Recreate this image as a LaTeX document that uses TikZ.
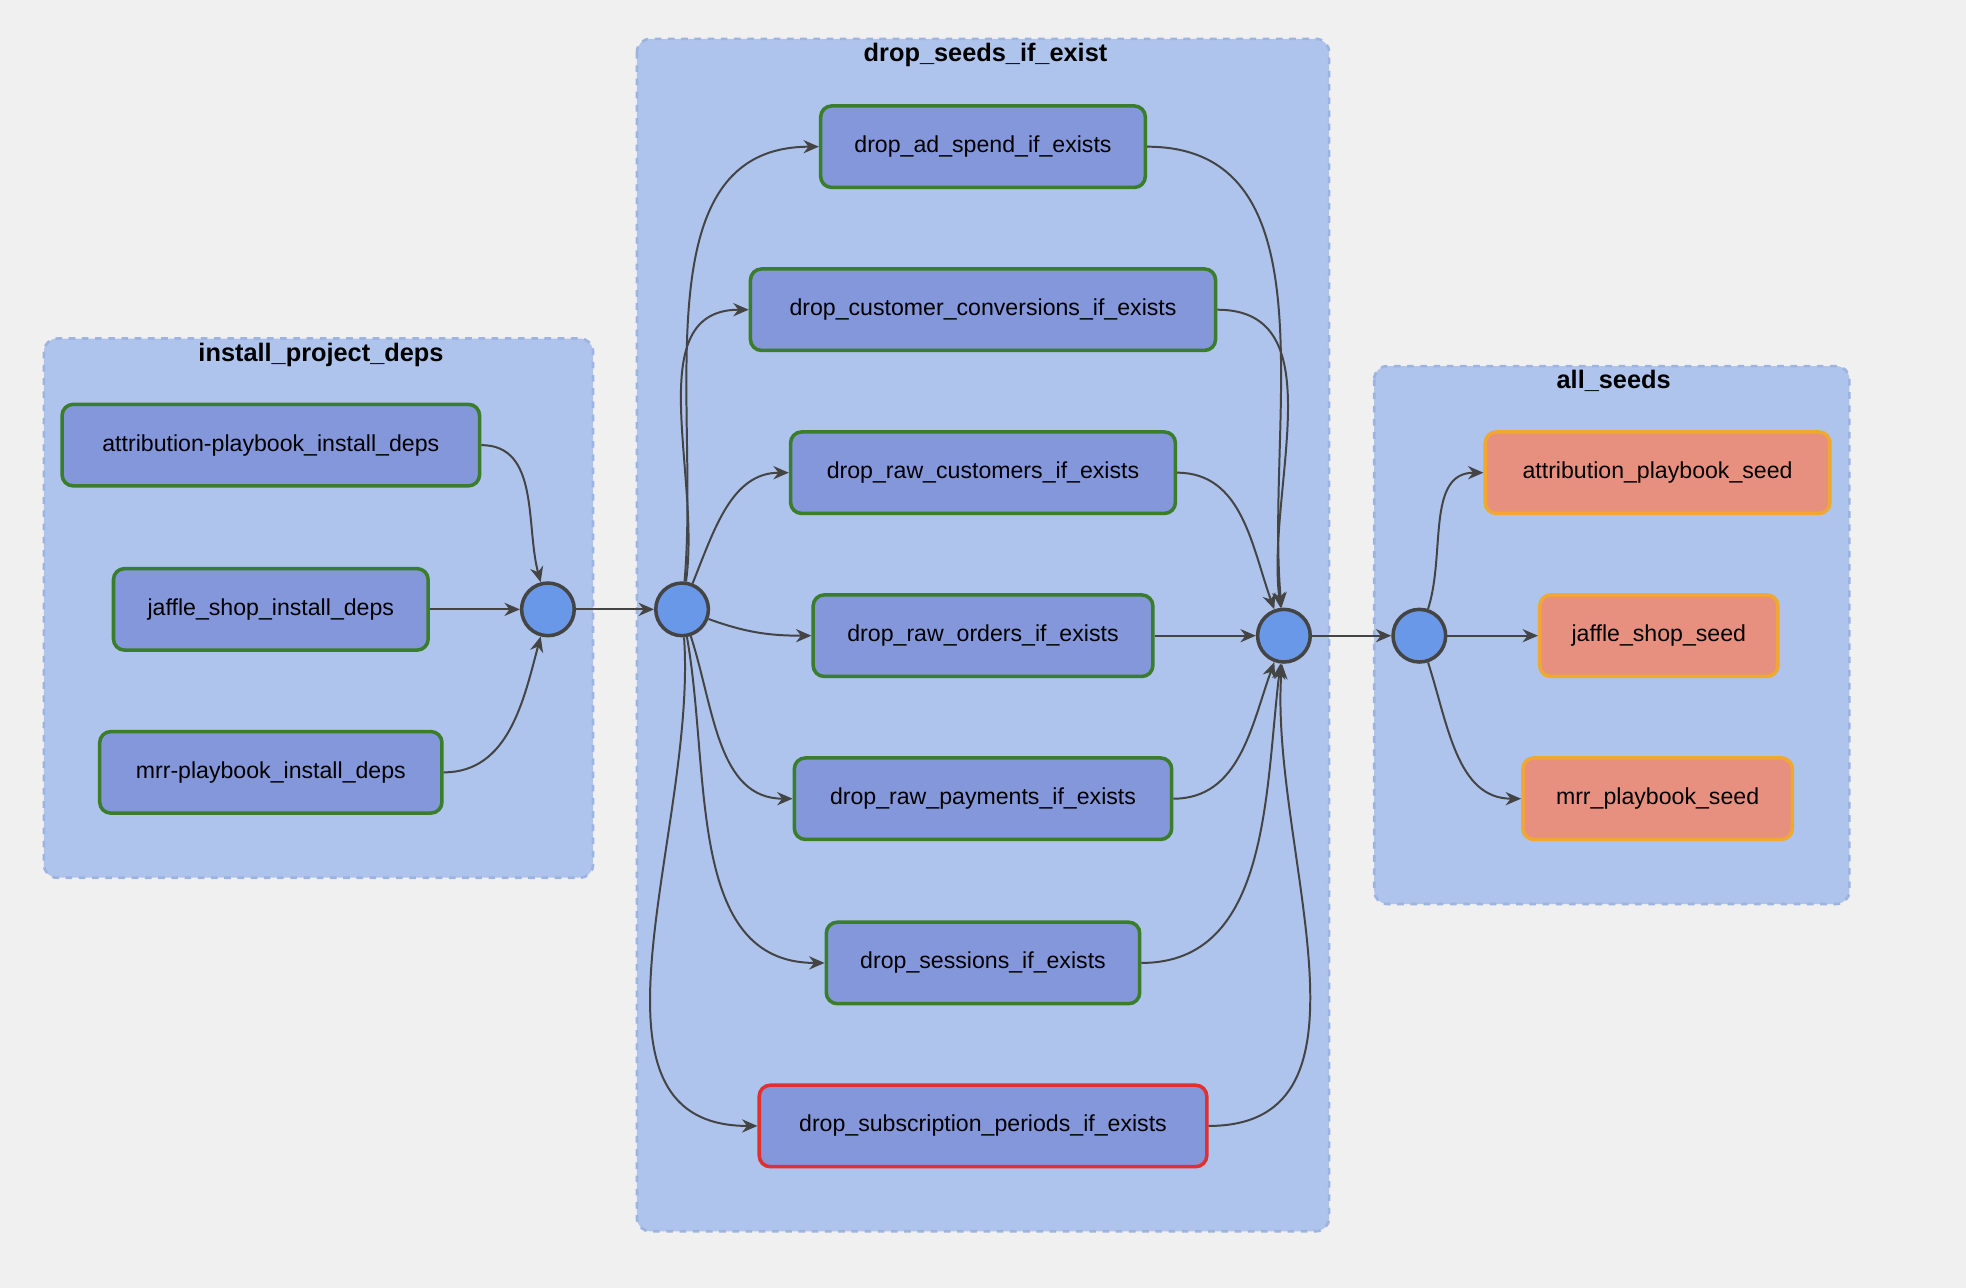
\documentclass[tikz,border=0pt]{standalone}
\usepackage{fontspec}
\setmainfont{Liberation Sans}
\usetikzlibrary{arrows.meta,calc}
\definecolor{bg}{HTML}{F0F0F0}
\definecolor{grp}{HTML}{AEC4EC}
\definecolor{grpb}{HTML}{9DB3E0}
\definecolor{task}{HTML}{8497DB}
\definecolor{tgreen}{HTML}{3A7D2A}
\definecolor{tred}{HTML}{E03030}
\definecolor{seed}{HTML}{E8907F}
\definecolor{seedb}{HTML}{F0A830}
\definecolor{dot}{HTML}{6A98E8}
\definecolor{edge}{HTML}{444444}
\tikzset{
 grpbox/.style={fill=grp,draw=grpb,dashed,line width=1.2pt,rounded corners=6pt},
 grptitle/.style={font=\bfseries\fontsize{11.5}{13}\selectfont},
 taskbox/.style={fill=task,draw=tgreen,line width=1.6pt,rounded corners=5pt,minimum height=1.3cm,font=\fontsize{10.5}{12}\selectfont,inner sep=0pt},
 failbox/.style={taskbox,draw=tred},
 seedbox/.style={taskbox,fill=seed,draw=seedb},
 junc/.style={circle,fill=dot,draw=edge,line width=1.6pt,minimum size=0.84cm,inner sep=0pt},
 e/.style={draw=edge,line width=0.9pt,-{Stealth[length=7pt,width=6pt]}}
}
\begin{document}
\begin{tikzpicture}[x=0.02cm,y=-0.02cm]
\fill[bg] (0,0) rectangle (1568,1027);
\useasboundingbox (0,0) rectangle (1568,1027);
\draw[grpbox] (35,270) rectangle (473,700);
\node[grptitle] at (256,283) {install\_project\_deps};
\draw[grpbox] (508,31) rectangle (1060,982);
\node[grptitle] at (786,44) {drop\_seeds\_if\_exist};
\draw[grpbox] (1096,292) rectangle (1475,721);
\node[grptitle] at (1287,304) {all\_seeds};

\node[taskbox,minimum width=6.66cm] (a1) at (216,355) {attribution-playbook\_install\_deps};
\node[taskbox,minimum width=5.02cm] (a2) at (216,486) {jaffle\_shop\_install\_deps};
\node[taskbox,minimum width=5.46cm] (a3) at (216,616) {mrr-playbook\_install\_deps};
\node[junc] (c1) at (437,486) {};
\node[junc] (c2) at (544,486) {};

\node[taskbox,minimum width=5.18cm] (d1) at (784,117) {drop\_ad\_spend\_if\_exists};
\node[taskbox,minimum width=7.42cm] (d2) at (784,247) {drop\_customer\_conversions\_if\_exists};
\node[taskbox,minimum width=6.14cm] (d3) at (784,377) {drop\_raw\_customers\_if\_exists};
\node[taskbox,minimum width=5.42cm] (d4) at (784,507) {drop\_raw\_orders\_if\_exists};
\node[taskbox,minimum width=6.02cm] (d5) at (784,637) {drop\_raw\_payments\_if\_exists};
\node[taskbox,minimum width=5.0cm] (d6) at (784,768) {drop\_sessions\_if\_exists};
\node[failbox,minimum width=7.14cm] (d7) at (784,898) {drop\_subscription\_periods\_if\_exists};
\node[junc] (c3) at (1024,507) {};
\node[junc] (c4) at (1132,507) {};

\node[seedbox,minimum width=5.5cm] (s1) at (1322,377) {attribution\_playbook\_seed};
\node[seedbox,minimum width=3.8cm] (s2) at (1323,507) {jaffle\_shop\_seed};
\node[seedbox,minimum width=4.3cm] (s3) at (1322,637) {mrr\_playbook\_seed};

\draw[e] (a1.east) to[out=0,in=105] (c1);
\draw[e] (a2.east) -- (c1);
\draw[e] (a3.east) to[out=0,in=-105] (c1);
\draw[e] (c1) -- (c2);

\draw[e] (c2) to[out=85,in=180] (d1.west);
\draw[e] (c2) to[out=82,in=180] (d2.west);
\draw[e] (c2) to[out=68,in=180] (d3.west);
\draw[e] (c2) to[out=-20,in=180] (d4.west);
\draw[e] (c2) to[out=-72,in=180] (d5.west);
\draw[e] (c2) to[out=-80,in=180] (d6.west);
\draw[e] (c2) to[out=-86,in=180] (d7.west);

\draw[e] (d1.east) to[out=0,in=95] (c3);
\draw[e] (d2.east) to[out=0,in=97] (c3);
\draw[e] (d3.east) to[out=0,in=110] (c3);
\draw[e] (d4.east) -- (c3);
\draw[e] (d5.east) to[out=0,in=-110] (c3);
\draw[e] (d6.east) to[out=0,in=-97] (c3);
\draw[e] (d7.east) to[out=0,in=-94] (c3);
\draw[e] (c3) -- (c4);

\draw[e] (c4) to[out=72,in=180] (s1.west);
\draw[e] (c4) -- (s2.west);
\draw[e] (c4) to[out=-72,in=180] (s3.west);
\end{tikzpicture}
\end{document}
